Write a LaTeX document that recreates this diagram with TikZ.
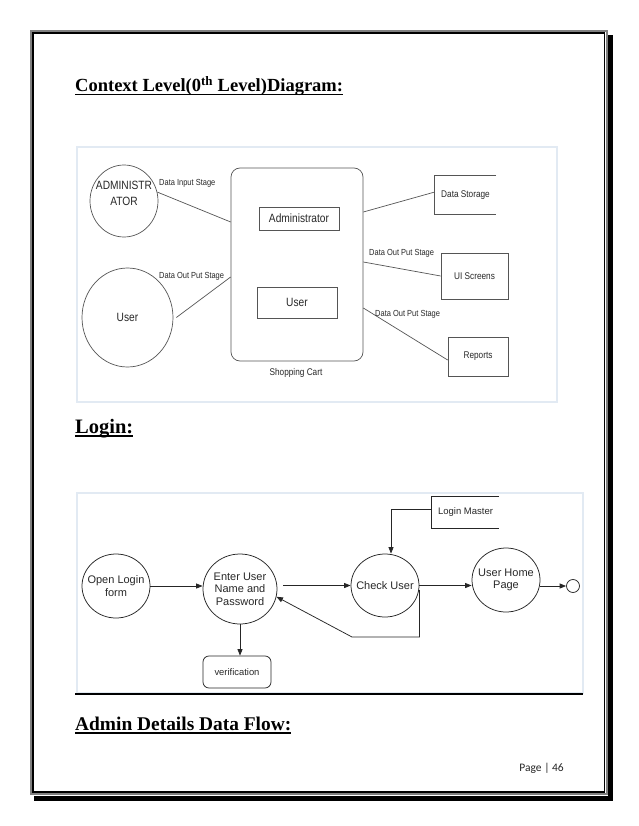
\documentclass[tikz,border=0pt]{standalone}
\usepackage{fontspec}
\setmainfont{Liberation Serif}
\newfontfamily\dfont[FakeStretch=0.85]{Liberation Sans}
\newfontfamily\lfont{Liberation Sans}
\newfontfamily\pfont{Carlito}
\usetikzlibrary{shapes.geometric,arrows.meta,calc}
\definecolor{faint}{RGB}{226,234,243}
\definecolor{lineg}{RGB}{85,85,85}
\definecolor{txtg}{RGB}{40,40,40}
\tikzset{
  ctxell/.style={draw=lineg, line width=0.7pt, ellipse, inner sep=0pt},
  ctxtxt/.style={inner sep=0pt, align=center, text=txtg, font=\dfont\fontsize{12}{16.5}\selectfont},
  ctxbox/.style={draw=lineg, line width=0.7pt, rectangle, inner sep=0pt, text=txtg, font=\dfont\fontsize{12}{14}\selectfont},
  ctxsmall/.style={inner sep=0pt, text=txtg, font=\dfont\fontsize{9.7}{11}\selectfont},
  ctxlbl/.style={inner sep=0pt, anchor=west, text=txtg, font=\dfont\fontsize{8.8}{10}\selectfont},
  ctxline/.style={draw=lineg, line width=0.7pt},
  logell/.style={draw=black!85, line width=0.75pt, ellipse, inner sep=0pt},
  logtxt/.style={inner sep=0pt, align=center, text=txtg, font=\lfont\fontsize{11}{12.7}\selectfont},
  logline/.style={draw=black!85, line width=0.75pt},
  arr/.style={logline, -{Triangle[length=6.5pt,width=5pt]}},
  heading/.style={inner sep=0pt, anchor=base west, font=\bfseries},
}
\begin{document}
\begin{tikzpicture}[x=1pt,y=-1pt]
\useasboundingbox (0,0) rectangle (638,826);
\fill[white] (0,0) rectangle (638,826);
% page frame
\fill[black] (608,35) rectangle (613,801);
\fill[black] (34,796) rectangle (613,801);
\draw[gray, line width=1.3pt] (31,31) rectangle (607,794);
\draw[black, line width=1.8pt] (33.2,33.2) rectangle (604.5,792);

% headings
\node[heading] (h1) at (75,92) {\fontsize{18.5}{20}\selectfont Context Level(0\textsuperscript{th} Level)Diagram:};
\draw[line width=1pt] ([yshift=-2.5pt]h1.base west) -- ([yshift=-2.5pt]h1.base east);
\node[heading] (h2) at (75,433) {\fontsize{20.5}{22}\selectfont Login:};
\draw[line width=1.1pt] ([yshift=-3pt]h2.base west) -- ([yshift=-3pt]h2.base east);
\node[heading] (h3) at (75,730) {\fontsize{19.4}{22}\selectfont Admin Details Data Flow:};
\draw[line width=1.1pt] ([yshift=-3pt]h3.base west) -- ([yshift=-3pt]h3.base east);
\node[inner sep=0pt, anchor=base east, font=\pfont\fontsize{11.5}{13}\selectfont, text=black!85] (pg) at (564,771) {Page | 46};

% ===== context diagram =====
\draw[faint, line width=1.4pt] (77,147) rectangle (557,402);

\node[ctxell, minimum width=68pt, minimum height=72pt] (adm) at (124,201) {};
\node[ctxtxt] (admt) at (124,193.5) {ADMINISTR\\ATOR};
\node[ctxell, minimum width=91pt, minimum height=99pt, label={[ctxtxt]center:User}] (usr) at (127.5,317.5) {};

\node[draw=lineg, line width=0.7pt, rounded corners=9pt, minimum width=132pt, minimum height=193pt, inner sep=0pt] (cart) at (297,264.5) {};
\node[ctxsmall, anchor=base] (cartl) at (296,375) {Shopping Cart};
\node[ctxbox, minimum width=80pt, minimum height=23pt] (adb) at (299,218.5) {Administrator};
\node[ctxbox, minimum width=80pt, minimum height=31pt] (usb) at (297,302.5) {User};

\node[ctxsmall, minimum width=61pt, minimum height=38pt] (ds) at (465.5,195) {Data Storage};
\draw[ctxline] (ds.north east) -- (ds.north west) -- (ds.south west) -- (ds.south east);
\node[ctxbox, ctxsmall, draw=lineg, line width=0.7pt, minimum width=67pt, minimum height=46pt] (ui) at (474.5,276) {UI Screens};
\node[ctxbox, ctxsmall, draw=lineg, line width=0.7pt, minimum width=60pt, minimum height=39pt] (rep) at (478,356.5) {Reports};

\draw[ctxline] (adm.15) -- ([yshift=42.5pt]cart.west);
\draw[ctxline] ([xshift=3pt]usr.east) -- ([yshift=-12.5pt]cart.west);
\draw[ctxline] ([yshift=52.5pt]cart.east) -- ([yshift=3pt]ds.west);
\draw[ctxline] ([yshift=2.5pt]cart.east) -- (ui.west);
\draw[ctxline] ([yshift=-43.5pt]cart.east) -- ([yshift=-3.5pt]rep.west);

\node[ctxlbl] (l1) at (159,183) {Data Input Stage};
\node[ctxlbl] (l2) at (159,276) {Data Out Put Stage};
\node[ctxlbl] (l3) at (369,253) {Data Out Put Stage};
\node[ctxlbl] (l4) at (375,314) {Data Out Put Stage};

% ===== login diagram =====
\draw[faint, line width=1.4pt] (77,493) rectangle (583,693);
\draw[black, line width=1.8pt] (75,694) -- (583,694);

\node[logell, minimum width=68pt, minimum height=64pt, label={[logtxt]center:{Open Login\\form}}] (olf) at (116,586) {};
\node[logell, minimum width=74pt, minimum height=70pt, label={[logtxt]center:{Enter User\\Name and\\Password}}] (eup) at (240,589) {};
\node[logell, minimum width=68pt, minimum height=63pt, label={[logtxt]center:{Check User}}] (chk) at (385,585.5) {};
\node[logell, minimum width=68pt, minimum height=64pt, label={[logtxt]center:{User Home\\Page}}] (uhp) at (506,580) {};
\node[draw=black!85, line width=0.75pt, circle, minimum size=13pt, inner sep=0pt] (endc) at (573,586) {};
\node[inner sep=0pt, minimum width=67pt, minimum height=31pt, text=txtg, font=\lfont\fontsize{9.5}{11}\selectfont] (lm) at (465.5,512.5) {Login Master};
\draw[logline] (lm.north east) -- (lm.north west) -- (lm.south west) -- (lm.south east);
\node[draw=black!85, line width=0.75pt, rounded corners=6pt, minimum width=68pt, minimum height=32pt, inner sep=0pt, text=txtg, font=\lfont\fontsize{9.4}{11}\selectfont] (ver) at (237,672) {verification};

\draw[arr] (olf.east) -- (olf.east -| eup.west);
\draw[arr] ($(eup.east |- chk.west)+(6,0)$) -- (chk.west);
\draw[arr] ([yshift=3.5pt]lm.west) -| ([xshift=6pt]chk.north);
\draw[arr] (chk.east) -- (chk.east -| uhp.west);
\draw[arr] (uhp.east |- endc.west) -- (endc.west);
\coordinate (lb) at (352,637);
\draw[arr] ([yshift=-4.5pt]chk.east) |- (lb) -- (eup.-12);
\draw[arr] (eup.south) -- (eup.south |- ver.north);
\end{tikzpicture}
\end{document}
